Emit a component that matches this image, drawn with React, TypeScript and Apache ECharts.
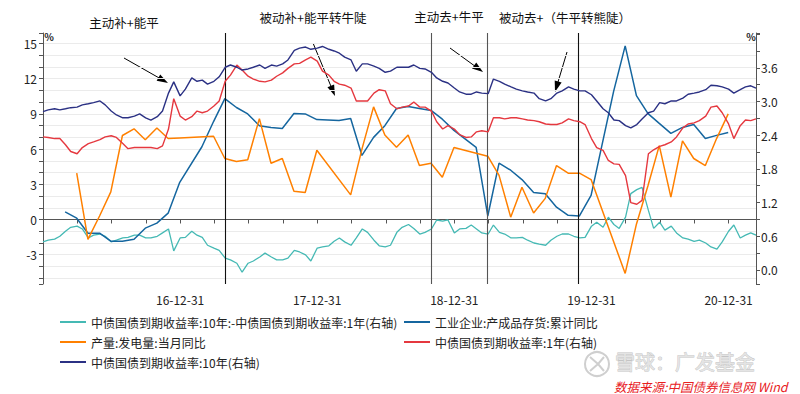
import React, { useEffect, useRef } from 'react';
import * as echarts from 'echarts';

// ---------- data ----------
// Bond yields: values on the 1st and 15th of each month, from 2016-01-01 to 2021-03-15
const halfMonthStartYear = 2016;
const cgb10y = [
  2.82, 2.85, 2.87, 2.85, 2.87, 2.89, 2.90, 2.94, 2.96, 2.98, 3.01, 2.94, 2.83, 2.76, 2.71, 2.71, 2.74, 2.78, 2.71, 2.67, 2.73, 2.83, 3.15, 3.35,
  3.10, 3.22, 3.42, 3.36, 3.38, 3.31, 3.36, 3.44, 3.61, 3.65, 3.61, 3.56, 3.58, 3.61, 3.65, 3.59, 3.65, 3.63, 3.67, 3.74, 3.91, 3.95, 3.97, 3.93,
  3.95, 3.98, 3.93, 3.90, 3.86, 3.79, 3.74, 3.54, 3.67, 3.67, 3.63, 3.59, 3.52, 3.54, 3.61, 3.61, 3.61, 3.65, 3.59, 3.58, 3.52, 3.42, 3.36, 3.33,
  3.24, 3.17, 3.13, 3.13, 3.17, 3.15, 3.14, 3.40, 3.36, 3.31, 3.26, 3.22, 3.19, 3.17, 3.15, 3.05, 3.01, 3.05, 3.15, 3.19, 3.26, 3.22, 3.19, 3.19,
  3.12, 3.01, 2.87, 2.80, 2.67, 2.66, 2.57, 2.53, 2.59, 2.69, 2.80, 2.83, 2.98, 2.96, 3.01, 3.01, 3.06, 3.13, 3.15, 3.17, 3.21, 3.29, 3.28, 3.26,
  3.22, 3.15, 3.21, 3.26, 3.28, 3.24,
];
const cgb1y = [
  2.37, 2.36, 2.34, 2.34, 2.23, 2.11, 2.07, 2.18, 2.25, 2.28, 2.32, 2.37, 2.39, 2.36, 2.25, 2.16, 2.18, 2.18, 2.18, 2.18, 2.16, 2.21, 2.51, 3.05,
  2.74, 2.67, 2.73, 2.83, 2.80, 2.83, 2.92, 3.01, 3.36, 3.47, 3.65, 3.56, 3.45, 3.40, 3.36, 3.35, 3.38, 3.45, 3.51, 3.59, 3.67, 3.68, 3.74, 3.79,
  3.72, 3.54, 3.47, 3.36, 3.31, 3.29, 3.24, 3.01, 3.01, 3.01, 3.15, 3.21, 3.19, 2.96, 2.87, 2.90, 2.92, 2.99, 2.90, 2.90, 2.83, 2.64, 2.51, 2.57,
  2.51, 2.41, 2.36, 2.37, 2.46, 2.48, 2.46, 2.71, 2.71, 2.69, 2.71, 2.71, 2.69, 2.67, 2.66, 2.64, 2.60, 2.59, 2.59, 2.62, 2.69, 2.66, 2.64, 2.59,
  2.34, 2.18, 2.13, 1.95, 1.89, 1.88, 1.68, 1.20, 1.17, 1.24, 2.07, 2.14, 2.20, 2.23, 2.28, 2.37, 2.53, 2.60, 2.62, 2.66, 2.74, 2.90, 2.92, 2.80,
  2.60, 2.34, 2.57, 2.67, 2.66, 2.69,
];
const spread10y1y = [
  0.50, 0.53, 0.55, 0.60, 0.69, 0.76, 0.78, 0.73, 0.57, 0.62, 0.64, 0.60, 0.50, 0.53, 0.57, 0.58, 0.62, 0.62, 0.57, 0.57, 0.60, 0.66, 0.73, 0.34,
  0.57, 0.58, 0.69, 0.62, 0.58, 0.44, 0.39, 0.35, 0.21, 0.18, 0.12, -0.04, 0.12, 0.16, 0.23, 0.30, 0.23, 0.18, 0.18, 0.21, 0.35, 0.32, 0.27, 0.16,
  0.39, 0.41, 0.43, 0.51, 0.57, 0.50, 0.44, 0.57, 0.73, 0.67, 0.53, 0.43, 0.41, 0.44, 0.67, 0.76, 0.81, 0.74, 0.64, 0.67, 0.73, 0.89, 0.87, 0.89,
  0.66, 0.73, 0.74, 0.80, 0.73, 0.66, 0.64, 0.80, 0.67, 0.64, 0.57, 0.57, 0.58, 0.53, 0.48, 0.46, 0.44, 0.53, 0.60, 0.64, 0.64, 0.60, 0.57, 0.58,
  0.78, 0.85, 0.76, 0.94, 0.81, 0.74, 0.94, 1.36, 1.43, 1.47, 1.06, 0.74, 0.85, 0.71, 0.78, 0.66, 0.57, 0.55, 0.51, 0.53, 0.48, 0.41, 0.37, 0.50,
  0.69, 0.80, 0.57, 0.62, 0.66, 0.62,
];

// Monthly series (plotted at month end)
const inventoryMonths = [
  '2016-02', '2016-03', '2016-04', '2016-05', '2016-06', '2016-07', '2016-08', '2016-09', '2016-10', '2016-11', '2016-12',
  '2017-02', '2017-03', '2017-04', '2017-05', '2017-06', '2017-07', '2017-08', '2017-09', '2017-10', '2017-11', '2017-12',
  '2018-02', '2018-03', '2018-04', '2018-05', '2018-06', '2018-07', '2018-08', '2018-09', '2018-10', '2018-11', '2018-12',
  '2019-02', '2019-03', '2019-04', '2019-05', '2019-06', '2019-07', '2019-08', '2019-09', '2019-10', '2019-11', '2019-12',
  '2020-02', '2020-03', '2020-04', '2020-05', '2020-06', '2020-07', '2020-08', '2020-09', '2020-10', '2020-11', '2020-12',
];
const inventoryValues = [
  0.65, 0.11, -1.17, -1.17, -1.85, -1.85, -1.68, -0.74, -0.31, 0.54, 3.17,
  6.2, 8.35, 10.3, 9.55, 9.0, 8.0, 7.85, 7.76, 9.03, 9.0, 8.52,
  8.44, 8.61, 5.46, 7.0, 8.0, 9.46, 9.63, 9.46, 9.3, 8.55, 7.6,
  6.15, 0.3, 4.8, 4.2, 3.4, 2.3, 2.2, 1.05, 0.36, 0.3, 2.06,
  10.9, 14.8, 10.56, 9.03, 8.19, 7.34, 7.85, 8.1, 6.91, 7.17, 7.42,
];
const powerMonths = [
  '2016-03', '2016-04', '2016-05', '2016-06', '2016-07', '2016-08', '2016-09', '2016-10', '2016-11', '2016-12',
  '2017-03', '2017-04', '2017-05', '2017-06', '2017-07', '2017-08', '2017-09', '2017-10', '2017-11', '2017-12',
  '2018-03', '2018-04', '2018-05', '2018-06', '2018-07', '2018-08', '2018-09', '2018-10', '2018-11', '2018-12',
  '2019-03', '2019-04', '2019-05', '2019-06', '2019-07', '2019-08', '2019-09', '2019-10', '2019-11', '2019-12',
  '2020-03', '2020-04', '2020-05', '2020-06', '2020-07', '2020-08', '2020-09', '2020-10', '2020-11', '2020-12',
];
const powerValues = [
  3.95, -1.7, 0.3, 2.35, 7.16, 7.73, 6.8, 7.8, 6.9, 6.95,
  7.1, 5.2, 4.95, 5.1, 8.6, 4.8, 5.2, 2.4, 2.3, 5.9,
  2.1, 6.0, 9.6, 7.2, 6.15, 7.2, 4.6, 4.8, 3.6, 6.14,
  5.4, 3.76, 0.2, 2.75, 0.55, 1.8, 4.6, 3.95, 3.95, 3.4,
  -4.6, -0.4, 2.9, 6.3, 1.9, 6.7, 5.2, 4.6, 6.9, 9.0,
];

const regimeDates = ['2017-05-03', '2018-10-31', '2019-03-31', '2019-11-27'];
const regimeLabels = ['主动补+能平', '被动补+能平转牛陡', '主动去+牛平', '被动去+（牛平转熊陡）'];

const seriesNames = [
  '中债国债到期收益率:10年:-中债国债到期收益率:1年(右轴)',
  '工业企业:产成品存货:累计同比',
  '产量:发电量:当月同比',
  '中债国债到期收益率:1年(右轴)',
  '中债国债到期收益率:10年(右轴)',
];
const seriesColors = ['#45b9b4', '#15669f', '#ff8000', '#e5383f', '#2b3184'];

// ---------- helpers ----------
const FONT = "'Noto Sans CJK SC', 'Noto Sans', sans-serif";

function toYear(ts: number): number {
  const d = new Date(ts);
  const y = d.getUTCFullYear();
  const s = Date.UTC(y, 0, 1);
  const e = Date.UTC(y + 1, 0, 1);
  return y + (ts - s) / (e - s);
}
function dateStrToYear(s: string): number {
  const [y, m, d] = s.split('-').map(Number);
  return toYear(Date.UTC(y, m - 1, d));
}
function monthEndToYear(s: string): number {
  const [y, m] = s.split('-').map(Number);
  return toYear(Date.UTC(y, m, 0));
}
function halfMonthX(i: number): number {
  const mi = Math.floor(i / 2);
  const y = halfMonthStartYear + Math.floor(mi / 12);
  const m = mi % 12;
  const d = i % 2 === 0 ? 1 : 15;
  return toYear(Date.UTC(y, m, d));
}
const pairsHalf = (vals: number[]) => vals.map((v, i) => [halfMonthX(i), v]);
const pairsMonthly = (months: string[], vals: number[]) => months.map((m, i) => [monthEndToYear(m), vals[i]]);

function arrow(x0: number, y0: number, x1: number, y1: number) {
  const dx = x1 - x0;
  const dy = y1 - y0;
  const len = Math.sqrt(dx * dx + dy * dy);
  const ux = dx / len;
  const uy = dy / len;
  const nx = -uy;
  const ny = ux;
  const hl = 11;
  const hw = 3.6;
  return [
    {
      type: 'line',
      shape: { x1: x0, y1: y0, x2: x1 - ux * (hl - 2), y2: y1 - uy * (hl - 2) },
      style: { stroke: '#000', lineWidth: 1 },
      silent: true,
    },
    {
      type: 'polygon',
      shape: {
        points: [
          [x1, y1],
          [x1 - ux * hl + nx * hw, y1 - uy * hl + ny * hw],
          [x1 - ux * hl - nx * hw, y1 - uy * hl - ny * hw],
        ],
      },
      style: { fill: '#000' },
      silent: true,
    },
  ];
}

function txt(text: string, x: number, y: number, extra: any = {}) {
  return {
    type: 'text',
    x,
    y,
    silent: true,
    style: {
      text,
      fontFamily: FONT,
      fontSize: 12.5,
      fill: '#111',
      textAlign: 'center',
      align: 'center',
      textVerticalAlign: 'middle',
      verticalAlign: 'middle',
      ...extra,
    },
  };
}

export default function App() {
  const ref = useRef<HTMLDivElement>(null);

  useEffect(() => {
    if (!ref.current) return;
    const chart = echarts.init(ref.current, null, { renderer: 'svg' });

    const leftFmt = (v: number) => {
      const r = Math.round(v);
      return Math.abs(v - r) < 1e-6 && r % 3 === 0 ? String(r) : '';
    };
    const rightFmt = (v: number) => {
      const k = Math.round(v * 10);
      if (Math.abs(v * 10 - k) > 1e-6) return '';
      if (k % 6 !== 0 || k < 0 || k > 36) return '';
      return (k / 10).toFixed(1);
    };
    const xFmt = (v: number) => {
      if (Math.abs(v - Math.round(v)) > 1e-6) return '';
      const r = Math.round(v);
      if (r <= 2016) return '';
      return `${String(r - 1).slice(2)}-12-31`;
    };

    const legendPos = [
      [60, 316],
      [404, 316],
      [60, 336],
      [404, 336],
      [60, 356],
    ];

    const lineSeries = (idx: number, data: number[][], yAxisIndex: number, width: number) => ({
      name: seriesNames[idx],
      type: 'line',
      data,
      yAxisIndex,
      showSymbol: false,
      symbol: 'none',
      color: seriesColors[idx],
      lineStyle: { width, color: seriesColors[idx] },
      emphasis: { disabled: true },
      z: 2 + idx,
    });

    const teal: any = lineSeries(0, pairsHalf(spread10y1y), 1, 1.3);
    teal.markLine = {
      silent: true,
      symbol: ['none', 'none'],
      label: { show: false },
      animation: false,
      data: regimeDates.map((d, i) => ({
        xAxis: dateStrToYear(d),
        lineStyle: { color: i === 1 || i === 2 ? '#555' : '#111', width: 1.1, type: 'solid' },
      })),
    };

    const option: any = {
      animation: false,
      textStyle: { fontFamily: FONT },
      grid: { left: 43, right: 44, top: 33, bottom: 110, containLabel: false },
      xAxis: {
        type: 'value',
        min: 2016,
        max: 2021.2,
        interval: 0.25,
        axisLine: { show: true, lineStyle: { color: '#555', width: 1 } },
        axisTick: { show: true, length: 4, lineStyle: { color: '#555' } },
        axisLabel: { formatter: xFmt, fontSize: 12, color: '#222', margin: 9, showMinLabel: true, showMaxLabel: true },
        splitLine: { show: false },
      },
      yAxis: [
        {
          type: 'value',
          position: 'left',
          min: -5.5,
          max: 15.9,
          minInterval: 1,
          maxInterval: 1,
          splitNumber: 20,
          axisLine: { show: true, lineStyle: { color: '#555' } },
          axisTick: { show: true, length: 4, lineStyle: { color: '#555' } },
          axisLabel: { formatter: leftFmt, fontSize: 12, color: '#222', margin: 6 },
          splitLine: { show: true, showMaxLine: false, showMinLine: false, lineStyle: { color: '#ebebeb', width: 1 } },
        },
        {
          type: 'value',
          position: 'right',
          min: -0.25,
          max: 4.22,
          minInterval: 0.3,
          maxInterval: 0.3,
          splitNumber: 15,
          axisLine: { show: true, lineStyle: { color: '#555' } },
          axisTick: { show: true, length: 4, lineStyle: { color: '#555' } },
          axisLabel: { formatter: rightFmt, fontSize: 12, color: '#222', margin: 5 },
          splitLine: { show: false },
        },
      ],
      legend: seriesNames.map((n, i) => ({
        data: [n],
        left: legendPos[i][0],
        top: legendPos[i][1],
        orient: 'horizontal',
        icon: 'rect',
        itemWidth: 26,
        itemHeight: 2,
        padding: 0,
        itemGap: 0,
        selectedMode: false,
        textStyle: { fontSize: 12, color: '#222', fontFamily: FONT },
      })),
      series: [
        teal,
        lineSeries(1, pairsMonthly(inventoryMonths, inventoryValues), 0, 1.5),
        lineSeries(2, pairsMonthly(powerMonths, powerValues), 0, 1.5),
        lineSeries(3, pairsHalf(cgb1y), 1, 1.4),
        lineSeries(4, pairsHalf(cgb10y), 1, 1.4),
      ],
      graphic: [
        txt(regimeLabels[0], 124, 22),
        txt(regimeLabels[1], 313, 17),
        txt(regimeLabels[2], 449, 16),
        txt(regimeLabels[3], 565, 17),
        ...arrow(124, 58, 168, 83),
        ...arrow(313, 43, 335, 96),
        ...arrow(450, 48, 483, 72),
        ...arrow(567, 52, 555, 92),
        txt('%', 49, 36, { fontSize: 10, fontWeight: 'bold', fill: '#222' }),
        txt('%', 751, 36, { fontSize: 10, fontWeight: 'bold', fill: '#222' }),
        {
          type: 'circle',
          silent: true,
          shape: { cx: 597, cy: 364, r: 12 },
          style: { fill: 'none', stroke: '#cfcfcf', lineWidth: 2 },
        },
        {
          type: 'polyline',
          silent: true,
          shape: { points: [[590, 357], [598, 364], [590, 371]] },
          style: { fill: 'none', stroke: '#cfcfcf', lineWidth: 2 },
        },
        {
          type: 'polyline',
          silent: true,
          shape: { points: [[604, 357], [598, 364], [604, 371]] },
          style: { fill: 'none', stroke: '#cfcfcf', lineWidth: 2 },
        },
        txt('雪球：广发基金', 615, 361, {
          fontSize: 20,
          lineHeight: 20,
          fill: '#e4e4e4',
          stroke: '#c4c4c4',
          lineWidth: 0.8,
          textAlign: 'left',
          align: 'left',
        }),
        txt('数据来源:中国债券信息网 Wind', 614, 386, {
          fontSize: 12.5,
          lineHeight: 12.5,
          fontStyle: 'italic',
          fill: '#e8201e',
          textAlign: 'left',
          align: 'left',
        }),
      ],
    };

    chart.setOption(option);
    return () => {
      chart.dispose();
    };
  }, []);

  return (
    <div
      ref={ref}
      style={{ position: 'fixed', left: 0, top: 0, width: 800, height: 394, background: '#fff' }}
    />
  );
}
